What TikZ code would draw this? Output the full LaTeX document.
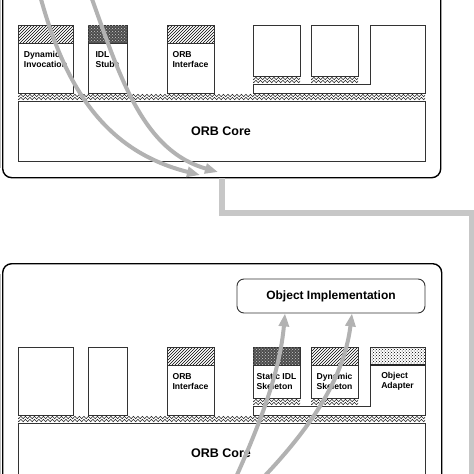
\documentclass[tikz,border=0pt]{standalone}
\usepackage{fontspec}
\setmainfont{Liberation Sans}
\usetikzlibrary{patterns,decorations.pathmorphing,arrows.meta}
\newcommand\wavyband[4]{%
  \begin{scope}
    \clip (#1,#2) rectangle (#3,#4);
    \draw[wave] ({#1-3},{#2+2.5}) -- ({#3+3},{#2+2.5});
    \draw[wave] ({#1-3},{#2+5.5}) -- ({#3+3},{#2+5.5});
  \end{scope}}
\begin{document}
\begin{tikzpicture}[x=1pt,y=-1pt,
  outerbox/.style={draw=black, line width=1.4pt, rounded corners=9pt, inner sep=0pt, anchor=north west},
  inbox/.style={draw=black!80, line width=0.8pt, fill=white, anchor=north west, inner sep=0pt},
  lbl/.style={font=\fontsize{8.6}{9.6}\selectfont\bfseries, align=left, inner sep=0pt},
  big/.style={font=\fontsize{12.5}{14}\selectfont\bfseries, inner sep=0pt},
  wave/.style={line width=0.6pt, draw=black!85, decorate, decoration={snake, amplitude=1.2pt, segment length=4.5pt}},
  hatchband/.style={pattern=north east lines, draw=black!80, line width=0.8pt},
  gridband/.style={fill=black!70, draw=black!80, line width=0.8pt},
  dotband/.style={pattern=crosshatch dots, draw=black!80, line width=0.8pt},
  flow/.style={draw=black!30, line width=4pt, -{Triangle[width=10pt,length=13pt]}},
  route/.style={draw=black!22, line width=6pt}]
\useasboundingbox (0,0) rectangle (474,474);

% left edge strips
\fill[black!25] (0,0) rectangle (1.4,168);
\fill[black!25] (0,274) rectangle (1.4,474);

% ===== top (client) =====
\node[outerbox, minimum width=438pt, minimum height=197pt] (client) at (2,-20) {};

\node[inbox, minimum width=55pt, minimum height=68pt] (dyn) at (18,25) {};
\draw[hatchband] (18,25) rectangle (73,43);
\node[lbl] (dynl) at (45.5,59.5) {Dynamic\\Invocation};

\node[inbox, minimum width=39pt, minimum height=68pt] (stubs) at (88,25) {};
\draw[gridband] (88,25) rectangle (127,43);
\fill[pattern=crosshatch dots, pattern color=black!20] (88.5,25.5) rectangle (126.5,42.5);
\node[lbl] (stubsl) at (107.5,59.5) {IDL\\Stubs};

\node[inbox, minimum width=47pt, minimum height=68pt] (orbi) at (167,25) {};
\draw[hatchband] (167,25) rectangle (214,43);
\node[lbl] (orbil) at (190.5,59.5) {ORB\\Interface};

\node[inbox, minimum width=47pt, minimum height=51pt] (cb1) at (253,25) {};
\wavyband{253}{76}{300}{83.5}
\node[inbox, minimum width=47pt, minimum height=51pt] (cb2) at (311,25) {};
\wavyband{311}{76}{358}{83.5}
\draw[draw=black!80, line width=0.8pt, fill=white] (253,84) -- (370,84) -- (370,25) -- (425,25) -- (425,93) -- (253,93) -- cycle;

\wavyband{18}{93}{425}{101}
\node[inbox, minimum width=407pt, minimum height=60pt] (core1) at (18,101) {};
\node[big] (core1l) at (221,131) {ORB Core};

% ===== bottom (server) =====
\node[outerbox, minimum width=439pt, minimum height=240pt] (server) at (2,263) {};

\node[draw=black!80, line width=0.9pt, rounded corners=7pt, minimum width=188pt, minimum height=34pt, font=\fontsize{12}{14}\selectfont\bfseries] (impl) at (331,296) {Object Implementation};

\node[inbox, minimum width=55pt, minimum height=68pt] (e1) at (18,347) {};
\node[inbox, minimum width=39pt, minimum height=68pt] (e2) at (88,347) {};

\node[inbox, minimum width=47pt, minimum height=68pt] (orbi2) at (167,347) {};
\draw[hatchband] (167,347) rectangle (214,365);
\node[lbl] (orbi2l) at (190.5,381.5) {ORB\\Interface};

\node[inbox, minimum width=47pt, minimum height=51pt] (sis) at (253,347) {};
\draw[gridband] (253,347) rectangle (300,365);
\fill[pattern=crosshatch dots, pattern color=black!20] (253.5,347.5) rectangle (299.5,364.5);
\node[lbl] (sisl) at (276.5,381.5) {Static IDL\\Skeleton};
\wavyband{253}{398}{300}{405.5}

\node[inbox, minimum width=47pt, minimum height=51pt] (dsk) at (311,347) {};
\draw[hatchband] (311,347) rectangle (358,365);
\node[lbl] (dskl) at (334.5,381.5) {Dynamic\\Skeleton};
\wavyband{311}{398}{358}{405.5}

\draw[draw=black!80, line width=0.8pt, fill=white] (253,406) -- (370,406) -- (370,347) -- (425,347) -- (425,415) -- (253,415) -- cycle;
\draw[dotband] (370,347) rectangle (425,365);
\draw[line width=1.4pt, draw=black!85] (370,365) -- (425,365);
\node[lbl] (oal) at (397.5,381.5) {Object\\Adapter};

\wavyband{18}{415}{425}{423}
\node[inbox, minimum width=407pt, minimum height=70pt] (core2) at (18,423) {};
\node[big] (core2l) at (221,453) {ORB Core};

% ===== flows =====
\coordinate (fromA) at (38,-12);
\coordinate (fromB) at (88,-12);
\coordinate (tipA) at (200,175);
\coordinate (tipB) at (218,172);
\draw[flow] (fromA) .. controls (62,80) and (100,150) .. (tipA);
\draw[flow] (fromB) .. controls (118,70) and (140,150) .. (tipB);

\coordinate (farend) at (472,480);
\draw[route] (client.south) -- ++(0,35) -| (farend);

\coordinate (upA) at (232,486);
\coordinate (upB) at (255,486);
\draw[flow] (upA) .. controls (262,420) and (280,370) .. (impl.south -| 285,0);
\draw[flow] (upB) .. controls (320,420) and (345,370) .. (impl.south -| 352,0);
\end{tikzpicture}
\end{document}
